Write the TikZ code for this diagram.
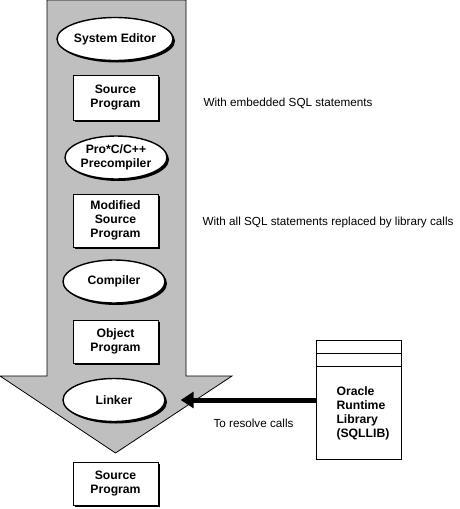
\documentclass[tikz,border=0pt]{standalone}
\usepackage{fontspec}
\setmainfont{Liberation Sans}
\usetikzlibrary{calc,shapes.geometric,shadows,arrows.meta}

\tikzset{
  stepfont/.style={font=\bfseries\fontsize{12.2}{14}\selectfont, align=center},
  shade/.style={drop shadow={shadow xshift=2pt, shadow yshift=-2pt, fill=black, opacity=1}},
  tool/.style={ellipse, draw, line width=1.4pt, fill=white, inner sep=0pt,
    minimum width=102pt, minimum height=43pt, shade, stepfont},
  prog/.style={rectangle, draw, line width=0.8pt, fill=white, inner sep=0pt,
    minimum width=85pt, minimum height=45pt, shade, stepfont},
  note/.style={anchor=west, font=\fontsize{11.7}{14}\selectfont},
}

\begin{document}
\begin{tikzpicture}[x=1pt,y=-1pt]
		\useasboundingbox (0,0) rectangle (459,509);

		% big flow arrow
		\filldraw[fill=black!25, draw=black, line width=0.8pt]
		  (47,0) -- (186,0) -- (186,376) -- (232,376) -- (115.5,453)
		  -- (0,376) -- (47,376) -- cycle;

		\node[tool] (editor)   at (115,39)    {System Editor};
		\node[prog] (src)      at (115.5,97.5) {Source\\Program};
		\node[tool] (precomp)  at (116,157.5)  {Pro*C/C++\\Precompiler};
		\node[prog, minimum height=53pt] (modsrc) at (115.5,220.5) {Modified\\Source\\Program};
		\node[tool] (compiler) at (114,281.5)  {Compiler};
		\node[prog, minimum height=43pt] (obj) at (115.5,341.5) {Object\\Program};
		\node[tool] (linker)   at (114,400)    {Linker};
		\node[prog, minimum height=43pt] (out) at (115.5,483.5) {Source\\Program};

		% runtime library
		\node[rectangle, draw, line width=0.8pt, fill=white, minimum width=85pt,
		  minimum height=119pt, inner sep=0pt,
		  drop shadow={shadow xshift=1.2pt, shadow yshift=-1.2pt, fill=black, opacity=1}]
		  (lib) at (358.5,399.5) {};
		\draw[line width=0.6pt] ($(lib.north west)+(0,14)$) -- ($(lib.north east)+(0,14)$);
		\draw[line width=0.6pt] ($(lib.north west)+(0,27)$) -- ($(lib.north east)+(0,27)$);
		\node[stepfont, align=left, anchor=west] (libtext) at (333,413)
		  {Oracle\\Runtime\\Library\\(SQLLIB)};

		\draw[line width=5pt, -{Triangle[length=13pt,width=16pt]}, shorten >=15pt]
		  (lib.west |- linker.east) -- (linker.east);

		% remarks
		\node[note] (embed)   at (200,103) {With embedded SQL statements};
		\node[note] (replace) at (199,222) {With all SQL statements replaced by library calls};
		\node[note] (resolve) at (210,423) {To resolve calls};
	  \end{tikzpicture}
\end{document}
